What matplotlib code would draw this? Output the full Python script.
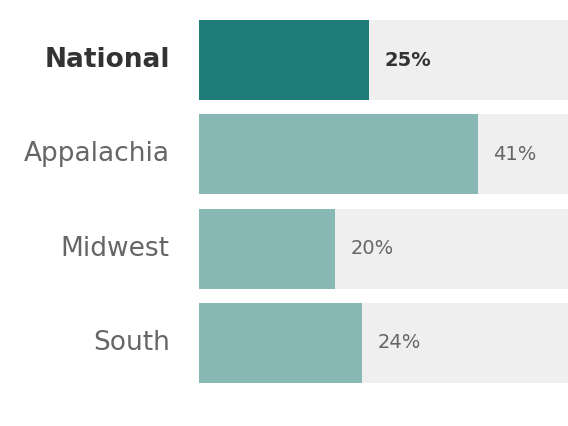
import matplotlib
matplotlib.use('Agg')
import matplotlib.pyplot as plt

regions = ["National", "Appalachia", "Midwest", "South"]
values = [25, 41, 20, 24]

fig = plt.figure(figsize=(5.68, 4.26), dpi=100)
ax = fig.add_axes([199/568, 43/426, 369/568, 363/426])
ax.set_xlim(0, 369/680*100)
ax.set_ylim(3.425, -0.425)

ys = range(len(regions))
ax.barh(ys, [100]*len(regions), height=0.85, color='#efefef')
colors = ['#1e7d78'] + ['#88b8b4']*(len(regions)-1)
ax.barh(ys, values, height=0.85, color=colors)

for i, (r, v) in enumerate(zip(regions, values)):
    bold = i == 0
    ax.text(-4.3, i, r, ha='right', va='center', fontsize=19,
            color='#333333' if bold else '#666666',
            fontweight='bold' if bold else 'normal', clip_on=False)
    ax.text(v + 2.3, i, f"{v}%", ha='left', va='center', fontsize=14,
            color='#333333' if bold else '#666666',
            fontweight='bold' if bold else 'normal')

ax.axis('off')
fig.savefig("out.png", dpi=100)
